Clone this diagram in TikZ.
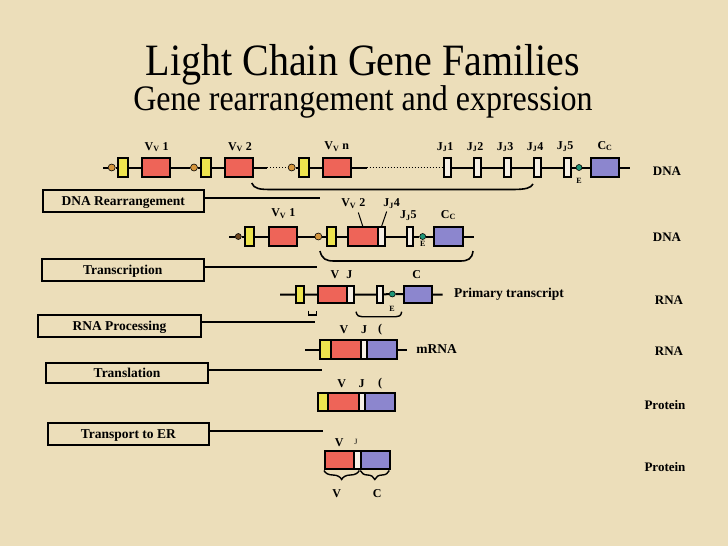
\documentclass[tikz,border=0pt]{standalone}
\usepackage{fontspec}
\setmainfont{Liberation Serif}
\usetikzlibrary{decorations.pathreplacing,calc}
\definecolor{parch}{RGB}{236,222,186}
\definecolor{yel}{RGB}{238,228,78}
\definecolor{redc}{RGB}{238,100,88}
\definecolor{pur}{RGB}{140,134,206}
\definecolor{wht}{RGB}{246,240,230}
\definecolor{orc}{RGB}{214,150,60}
\definecolor{grc}{RGB}{30,150,120}
\definecolor{brc}{RGB}{110,70,30}
\begin{document}
\begin{tikzpicture}[x=1pt,y=-1pt,
 seg/.style={draw=black,line width=2pt,inner sep=0pt,outer sep=0pt},
 yb/.style={seg,fill=yel},
 rb/.style={seg,fill=redc},
 pb/.style={seg,fill=pur},
 wb/.style={seg,fill=wht},
 dot/.style={circle,draw=black,line width=0.6pt,inner sep=0pt,minimum size=7pt},
 bb/.style={line width=2pt},
 dl/.style={line width=1pt,dotted},
 lab/.style={font=\fontsize{12}{12}\selectfont\bfseries,inner sep=0pt},
 tiny/.style={font=\fontsize{8}{8}\selectfont\bfseries,inner sep=0pt},
 side/.style={font=\fontsize{13}{13}\selectfont\bfseries,inner sep=0pt},
 procbox/.style={draw=black,line width=2pt,minimum height=22pt,inner sep=0pt,text height=9pt,text depth=0pt,font=\fontsize{13.5}{14}\selectfont\bfseries},
]
\fill[parch] (0,0) rectangle (728,546);
\useasboundingbox (0,0) rectangle (728,546);

% titles
\node[anchor=base,inner sep=0pt,font=\fontsize{40}{44}\selectfont] (t1) at (363,75) {\scalebox{1}[1.12]{Light Chain Gene Families}};
\node[anchor=base,inner sep=0pt,font=\fontsize{32}{36}\selectfont] (t2) at (363,110) {\scalebox{1}[1.12]{Gene rearrangement and expression}};

% ---------- Row 1: germline DNA ----------
\coordinate (as) at (103,167.5);
\node[dot,fill=orc] (a1) at (111.7,167.5) {};
\node[yb,minimum width=10pt,minimum height=19pt] (ay1) at (123,167.5) {};
\node[rb,minimum width=28pt,minimum height=19pt] (ar1) at (156,167.5) {};
\node[dot,fill=orc] (a2) at (194,167.5) {};
\node[yb,minimum width=10pt,minimum height=19pt] (ay2) at (205.5,167.5) {};
\node[rb,minimum width=28pt,minimum height=19pt] (ar2) at (238.5,167.5) {};
\coordinate (ad1) at (267,167.5);
\node[dot,fill=orc] (a3) at (291.7,167.5) {};
\node[yb,minimum width=10pt,minimum height=19pt] (ay3) at (304,167.5) {};
\node[rb,minimum width=28pt,minimum height=19pt] (ar3) at (336.5,167.5) {};
\coordinate (ad2) at (366.7,167.5);
\node[wb,minimum width=7pt,minimum height=19pt] (aj1) at (447.5,167.5) {};
\node[wb,minimum width=7pt,minimum height=19pt] (aj2) at (477.5,167.5) {};
\node[wb,minimum width=7pt,minimum height=19pt] (aj3) at (507.5,167.5) {};
\node[wb,minimum width=7pt,minimum height=19pt] (aj4) at (537.5,167.5) {};
\node[wb,minimum width=7pt,minimum height=19pt] (aj5) at (567.5,167.5) {};
\node[dot,fill=grc,minimum size=6pt] (ae) at (579,167.5) {};
\node[pb,minimum width=28pt,minimum height=19pt] (ac) at (605,167.5) {};
\coordinate (aend) at (630,167.5);
\draw[bb] (as) -- (a1) (a1) -- (ay1) (ay1) -- (ar1) (ar1) -- (a2) (a2) -- (ay2) (ay2) -- (ar2) (ar2) -- (ad1);
\draw[dl] (ad1) -- (a3);
\draw[bb] (a3) -- (ay3) (ay3) -- (ar3) (ar3) -- (ad2);
\draw[dl] (ad2) -- (aj1);
\draw[bb] (aj1) -- (aj2) (aj2) -- (aj3) (aj3) -- (aj4) (aj4) -- (aj5) (aj5) -- (ae) (ae) -- (ac) (ac) -- (aend);

\node[lab] (lav1) at (156.7,147) {V\textsubscript{V} 1};
\node[lab] (lav2) at (240,147) {V\textsubscript{V} 2};
\node[lab] (lavn) at (336.7,147) {V\textsubscript{V} n};
\node[lab] (laj1) at (445,147) {J\textsubscript{J}1};
\node[lab] (laj2) at (475,147) {J\textsubscript{J}2};
\node[lab] (laj3) at (505,147) {J\textsubscript{J}3};
\node[lab] (laj4) at (535,147) {J\textsubscript{J}4};
\node[lab] (laj5) at (565,147) {J\textsubscript{J}5};
\node[lab] (lac) at (605,146) {C\textsubscript{C}};
\node[tiny] (lae) at (579,181) {E};
\node[side] (sd1) at (667,171.7) {DNA};
\draw[line width=1.6pt] (251.7,183) .. controls (254,189) and (260,189.5) .. (272,189.5) -- (512,189.5) .. controls (526,189.5) and (531,188) .. (533,184);

% ---------- Row 2: rearranged DNA ----------
\coordinate (bs) at (229,236.5);
\node[dot,fill=brc,minimum size=6pt] (b1) at (238.3,236.5) {};
\node[yb,minimum width=9.5pt,minimum height=19pt] (by1) at (249.5,236.5) {};
\node[rb,minimum width=27.5pt,minimum height=19pt] (br1) at (282.8,236.5) {};
\node[dot,fill=orc] (b2) at (318.3,236.5) {};
\node[yb,minimum width=9.5pt,minimum height=19pt] (by2) at (331.7,236.5) {};
\node[rb,minimum width=29.4pt,minimum height=19pt,anchor=west] (br2) at (348.3,236.5) {};
\node[wb,minimum width=7.3pt,minimum height=19pt,anchor=west] (bj4) at (br2.east) {};
\node[wb,minimum width=6pt,minimum height=19pt] (bj5) at (410.3,236.5) {};
\node[dot,fill=grc,minimum size=6pt] (be) at (422.7,236.5) {};
\node[pb,minimum width=28.5pt,minimum height=19pt] (bc) at (448.3,236.5) {};
\coordinate (bend) at (474,236.5);
\draw[bb] (bs) -- (b1) (b1) -- (by1) (by1) -- (br1) (br1) -- (b2) (b2) -- (by2) (by2) -- (br2) (bj4) -- (bj5) (bj5) -- (be) (be) -- (bc) (bc) -- (bend);

\node[lab] (lbv1) at (283.3,213.3) {V\textsubscript{V} 1};
\node[lab] (lbv2) at (353.3,203.3) {V\textsubscript{V} 2};
\node[lab] (lbj4) at (391.7,203.3) {J\textsubscript{J}4};
\node[lab] (lbj5) at (408.3,216) {J\textsubscript{J}5};
\node[lab] (lbc) at (448.3,215) {C\textsubscript{C}};
\node[tiny] (lbe) at (422.7,243.8) {E};
\coordinate (pv2) at (358.3,212.5);
\coordinate (pj4) at (386.7,211.5);
\draw[line width=1pt] (pv2) -- (br2.north);
\draw[line width=1pt] (pj4) -- (bj4.north);
\node[side] (sd2) at (667,237.3) {DNA};
\draw[line width=1.6pt] (320,251) .. controls (322,259) and (326,261) .. (334,261) -- (460,261) .. controls (468,261) and (472,259) .. (473,251);

% ---------- Row 3: primary transcript ----------
\coordinate (cs) at (280,294.5);
\node[yb,minimum width=8pt,minimum height=17.5pt] (cy) at (300.3,294.5) {};
\node[rb,minimum width=29pt,minimum height=17.5pt,anchor=west] (cr) at (317.7,294.5) {};
\node[wb,minimum width=7.3pt,minimum height=17.5pt,anchor=west] (cj) at (cr.east) {};
\node[wb,minimum width=6.5pt,minimum height=17.5pt] (cw) at (380,294.5) {};
\node[dot,fill=grc,minimum size=6pt] (ce) at (392.3,294) {};
\node[pb,minimum width=28pt,minimum height=17.5pt] (cc) at (417.5,294.5) {};
\coordinate (cend) at (442.7,294.5);
\draw[bb] (cs) -- (cy) (cy) -- (cr) (cj) -- (cw) (cw) -- (ce) (ce) -- (cc) (cc) -- (cend);
\node[lab] (lcv) at (335,275) {V};
\node[lab] (lcj) at (349.3,275) {J};
\node[lab] (lcc) at (416.7,275) {C};
\node[tiny] (lce) at (392,308.5) {E};
\node[font=\fontsize{13.5}{14}\selectfont\bfseries,inner sep=0pt] (pt) at (509,294.7) {Primary transcript};
\node[side] (sd3) at (669,300.7) {RNA};
\draw[line width=1.4pt] (308.3,310.5) -- (308.3,315) -- (316.7,315) -- (316.7,310.5);
\draw[line width=1.4pt] (356,311.7) .. controls (357,316) and (359,316.7) .. (362,316.7) -- (396,316.7) .. controls (399,316.7) and (401,316) .. (401.7,311.7);

% ---------- Row 4: mRNA ----------
\coordinate (ds) at (305,349.7);
\node[yb,minimum width=10.7pt,minimum height=19pt,anchor=west] (dy) at (320,349.7) {};
\node[rb,minimum width=30pt,minimum height=19pt,anchor=west] (dr) at (dy.east) {};
\node[wb,minimum width=6.7pt,minimum height=19pt,anchor=west] (dw) at (dr.east) {};
\node[pb,minimum width=29.3pt,minimum height=19pt,anchor=west] (dc) at (dw.east) {};
\coordinate (dend) at (406.7,349.7);
\draw[bb] (ds) -- (dy) (dc) -- (dend);
\node[lab] (ldv) at (344,330) {V};
\node[lab] (ldj) at (364,330) {J};
\node[lab] (ldc) at (380,330) {(};
\node[font=\fontsize{13.5}{14}\selectfont\bfseries,inner sep=0pt] (mr) at (436.7,349.5) {mRNA};
\node[side] (sd4) at (669,351.7) {RNA};

% ---------- Row 5: protein ----------
\node[yb,minimum width=10.4pt,minimum height=18pt,anchor=west] (ey) at (318,402) {};
\node[rb,minimum width=30.6pt,minimum height=18pt,anchor=west] (er) at (ey.east) {};
\node[wb,minimum width=6pt,minimum height=18pt,anchor=west] (ew) at (er.east) {};
\node[pb,minimum width=29.7pt,minimum height=18pt,anchor=west] (ec) at (ew.east) {};
\node[lab] (lev) at (341.7,383.3) {V};
\node[lab] (lej) at (361.7,383.3) {J};
\node[lab] (lec) at (380,383.3) {(};
\node[side] (sd5) at (665,405) {Protein};

% ---------- Row 6: protein to ER ----------
\node[rb,minimum width=29.3pt,minimum height=18.5pt,anchor=west] (fr) at (324.8,460) {};
\node[wb,minimum width=6.7pt,minimum height=18.5pt,anchor=west] (fw) at (fr.east) {};
\node[pb,minimum width=29.3pt,minimum height=18.5pt,anchor=west] (fc) at (fw.east) {};
\node[lab] (lfv) at (339.3,442.7) {V};
\node[inner sep=0pt,font=\fontsize{8}{8}\selectfont] (lfj) at (356,441.5) {J};
\draw[line width=1.4pt,decorate,decoration={brace,amplitude=9pt,mirror}] (324,470.5) -- (359.3,470.5);
\draw[line width=1.4pt,decorate,decoration={brace,amplitude=9pt,mirror}] (360.3,470.5) -- (389.3,470.5);
\node[lab] (lfv2) at (336.7,494) {V};
\node[lab] (lfc2) at (377.3,494) {C};
\node[side] (sd6) at (665,466.7) {Protein};

% ---------- process boxes ----------
\node[procbox,minimum width=161.4pt] (p1) at (123.3,200.8) {DNA Rearrangement};
\node[procbox,minimum width=162.4pt] (p2) at (122.8,269.7) {Transcription};
\node[procbox,minimum width=162.4pt] (p3) at (119.5,326.3) {RNA Processing};
\node[procbox,minimum width=162pt,minimum height=20.6pt] (p4) at (127,373) {Translation};
\node[procbox,minimum width=161.4pt] (p5) at (128.3,433.8) {Transport to ER};
\coordinate (q1) at (320,198.3);
\coordinate (q2) at (317,266.7);
\coordinate (q3) at (315,322.3);
\coordinate (q4) at (321.7,370);
\coordinate (q5) at (323,430.7);
\draw[bb] (q1 -| p1.east) -- (q1);
\draw[bb] (q2 -| p2.east) -- (q2);
\draw[bb] (q3 -| p3.east) -- (q3);
\draw[bb] (q4 -| p4.east) -- (q4);
\draw[bb] (q5 -| p5.east) -- (q5);
\end{tikzpicture}
\end{document}
